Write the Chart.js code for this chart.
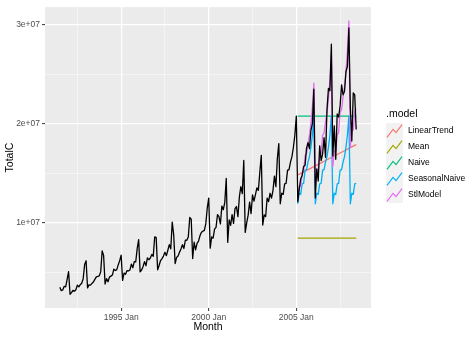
<!DOCTYPE html>
<html>
<head>
<meta charset="utf-8">
<script src="https://cdn.jsdelivr.net/npm/chart.js@4/dist/chart.umd.min.js"></script>
<style>
  html, body { margin: 0; padding: 0; background: #ffffff; }
  #wrap { width: 474px; height: 338px; }
</style>
</head>
<body>
<div id="wrap"><canvas id="costChart" width="474" height="338"></canvas></div>
<script>
// Monthly TotalC, 1991 Jul .. 2008 Jun
var totalC = [
  3526591, 3180891, 3252221, 3611003, 3565869, 4306371,
  5088335, 2814520, 2985811, 3204780, 3127578, 3270523, 3737851, 3558776, 3777202, 3924490, 4386531, 5810549,
  6192068, 3450857, 3772307, 3734303, 3905399, 4049687, 4315566, 4562185, 4608662, 4667851, 5093841, 7179962,
  6731473, 3841278, 4394076, 4075341, 4540645, 4645615, 4752607, 5350605, 5204455, 5301651, 5773742, 6204593,
  6749484, 4216067, 4949349, 4823045, 5194754, 5170787, 5256742, 5855277, 5490729, 6115293, 6088473, 7416598,
  8329452, 5069796, 5262557, 5597126, 6110296, 5689161, 6486849, 6300569, 6467476, 6828629, 6649078, 8606937,
  8524471, 5277918, 5714303, 6214529, 6411929, 6667716, 7050831, 6704919, 7250988, 7819733, 7398101, 10096233,
  8798513, 5918261, 6534493, 6675736, 7064201, 7383381, 7813496, 7431892, 8275117, 8260441, 8596156, 10558939,
  10391416, 6421535, 8062619, 7297739, 7936916, 8165323, 8717420, 9070964, 9177113, 9251887, 9933136, 11532974,
  12511462, 7457199, 8591191, 8474000, 9386803, 9560399, 10834295, 10643751, 9908162, 11710041, 11340151, 12079132,
  14497581, 8049275, 10312891, 9753358, 10850382, 9961719, 11443601, 11659239, 10647060, 12652134, 13674466, 12965735,
  16300269, 9053485, 10002449, 10788750, 12106705, 10954101, 12844566, 12196500, 12854748, 13542004, 13287640, 15134918,
  16828350, 9800215, 10816994, 10654223, 12512323, 12161210, 12998046, 12517276, 13268658, 14733622, 13669382, 16503966,
  18003768, 11938030, 12997900, 12882645, 13943447, 13989472, 15339097, 15370764, 16142005, 16685754, 17636728, 18869325,
  20778723, 12154552, 13402392, 14459239, 14795678, 15705833, 15826411, 17554701, 18100864, 17496668, 19347265, 20031291,
  23486694, 12536987, 15467018, 14233539, 17783058, 16291602, 16980282, 18612189, 16623343, 21430241, 23575517, 23334206,
  28038383, 16763869, 19792754, 16427305, 21000742, 20681002, 21834890, 23930204, 22930357, 23263340, 25250030, 25806090,
  29665356, 21654285, 18264945, 23107677, 22912510, 19431740
];
var dataStart = 1991 + 6 / 12;      // 1991 Jul

// Forecasts, 2005 Feb .. 2008 Jun
var forecastStart = 2005 + 1 / 12;  // 2005 Feb

var linearTrend = [
  14850000, 14926000, 15003000, 15079000, 15155000, 15231000, 15308000, 15384000, 15460000, 15536000, 15613000, 15689000,
  15765000, 15841000, 15918000, 15994000, 16070000, 16146000, 16223000, 16299000, 16375000, 16451000, 16528000, 16604000,
  16680000, 16756000, 16833000, 16909000, 16985000, 17061000, 17138000, 17214000, 17290000, 17366000, 17443000, 17519000,
  17595000, 17671000, 17748000, 17824000, 17900000
];
var meanFc = [
  8476543, 8476543, 8476543, 8476543, 8476543, 8476543, 8476543, 8476543, 8476543, 8476543, 8476543, 8476543,
  8476543, 8476543, 8476543, 8476543, 8476543, 8476543, 8476543, 8476543, 8476543, 8476543, 8476543, 8476543,
  8476543, 8476543, 8476543, 8476543, 8476543, 8476543, 8476543, 8476543, 8476543, 8476543, 8476543, 8476543,
  8476543, 8476543, 8476543, 8476543, 8476543
];
var naiveFc = [
  20778723, 20778723, 20778723, 20778723, 20778723, 20778723, 20778723, 20778723, 20778723, 20778723, 20778723, 20778723,
  20778723, 20778723, 20778723, 20778723, 20778723, 20778723, 20778723, 20778723, 20778723, 20778723, 20778723, 20778723,
  20778723, 20778723, 20778723, 20778723, 20778723, 20778723, 20778723, 20778723, 20778723, 20778723, 20778723, 20778723,
  20778723, 20778723, 20778723, 20778723, 20778723
];
var seasonalNaive = [
  11938030, 12997900, 12882645, 13943447, 13989472, 15339097, 15370764, 16142005, 16685754, 17636728, 18869325, 20778723,
  11938030, 12997900, 12882645, 13943447, 13989472, 15339097, 15370764, 16142005, 16685754, 17636728, 18869325, 20778723,
  11938030, 12997900, 12882645, 13943447, 13989472, 15339097, 15370764, 16142005, 16685754, 17636728, 18869325, 20778723,
  11938030, 12997900, 12882645, 13943447, 13989472
];
var stlModel = [
  12452000, 13689000, 13699000, 14970000, 15165000, 16790000, 16988000, 18013000, 18801000, 20065000, 21675000, 24101000,
  13980000, 15369000, 15381000, 16808000, 17027000, 18851000, 19074000, 20225000, 21109000, 22529000, 24336000, 27060000,
  15696000, 17256000, 17269000, 18871000, 19117000, 21165000, 21415000, 22708000, 23700000, 25294000, 27324000, 30382000,
  17623000, 19374000, 19389000, 21188000, 21464000
];

var modelNames  = ['LinearTrend', 'Mean', 'Naive', 'SeasonalNaive', 'StlModel'];
var modelColors = ['#F8766D', '#A3A500', '#00BF7D', '#00B0F6', '#E76BF3'];
var modelValues = [linearTrend, meanFc, naiveFc, seasonalNaive, stlModel];

var xMajor = [1995, 2000, 2005];
var xTickLabels = ['1995 Jan', '2000 Jan', '2005 Jan'];
var xMinor = [1992.5, 1997.5, 2002.5, 2007.5];
var yMajor = [10000000, 20000000, 30000000];
var yTickLabels = ['1e+07', '2e+07', '3e+07'];
var yMinor = [5000000, 15000000, 25000000];

function toPoints(values, start) {
    return values.map(function (v, i) { return { x: start + i / 12, y: v }; });
}

var fontName = "'Liberation Sans', Arial, sans-serif";

// black series first so it sits on top; StlModel above the other forecasts
var datasets = [{
    label: 'TotalC',
    data: toPoints(totalC, dataStart),
    borderColor: '#000000',
    borderWidth: 1.3
}];
for (var i = modelNames.length - 1; i >= 0; i--) {
    datasets.push({
        label: modelNames[i],
        data: toPoints(modelValues[i], forecastStart),
        borderColor: modelColors[i],
        borderWidth: 1.3
    });
}

var panelBackground = {
    id: 'panelBackground',
    beforeDraw: function (chart) {
        var a = chart.chartArea, ctx = chart.ctx;
        ctx.save();
        ctx.fillStyle = '#EBEBEB';
        ctx.fillRect(a.left, a.top, a.right - a.left, a.bottom - a.top);
        ctx.restore();
    }
};

// ggplot-style legend with zigzag keys
var modelLegend = {
    id: 'modelLegend',
    afterDraw: function (chart) {
        var ctx = chart.ctx;
        var x0 = 386, y0 = 123, kw = 17, kh = 16;
        ctx.save();
        ctx.fillStyle = '#000000';
        ctx.font = '10.5px ' + fontName;
        ctx.textBaseline = 'middle';
        ctx.textAlign = 'left';
        ctx.fillText('.model', x0, 114);
        ctx.fillStyle = '#F2F2F2';
        ctx.fillRect(x0, y0, kw, kh * modelNames.length);
        ctx.font = '8.5px ' + fontName;
        for (var k = 0; k < modelNames.length; k++) {
            var ky = y0 + k * kh;
            ctx.strokeStyle = modelColors[k];
            ctx.lineWidth = 1.1;
            ctx.beginPath();
            ctx.moveTo(x0 + 1, ky + kh * 0.9);
            ctx.lineTo(x0 + 1 + (kw - 2) * 0.4, ky + kh * 0.4);
            ctx.lineTo(x0 + 1 + (kw - 2) * 0.6, ky + kh * 0.6);
            ctx.lineTo(x0 + kw - 1, ky + kh * 0.1);
            ctx.stroke();
            ctx.fillStyle = '#000000';
            ctx.fillText(modelNames[k], 408, ky + kh / 2);
        }
        ctx.restore();
    }
};

function isMajor(list, v) {
    return list.some(function (m) { return Math.abs(m - v) < 1e-6 * Math.max(1, Math.abs(m)); });
}

new Chart(document.getElementById('costChart'), {
    type: 'line',
    data: { datasets: datasets },
    options: {
        responsive: false,
        animation: false,
        events: [],
        layout: { padding: { top: 5, right: 103, left: 0, bottom: 0 } },
        elements: { point: { radius: 0 }, line: { tension: 0, borderJoinStyle: 'round' } },
        plugins: { legend: { display: false }, tooltip: { enabled: false } },
        scales: {
            x: {
                type: 'linear',
                min: 1990.654,
                max: 2009.2625,
                afterBuildTicks: function (scale) {
                    scale.ticks = xMinor.concat(xMajor).sort().map(function (v) { return { value: v }; });
                },
                afterFit: function (scale) { scale.height = 30; },
                border: { display: false },
                grid: {
                    color: function (c) { return isMajor(xMajor, c.tick.value) ? '#FFFFFF' : 'rgba(255,255,255,0.8)'; },
                    lineWidth: function (c) { return isMajor(xMajor, c.tick.value) ? 1.2 : 0.6; },
                    tickLength: 3,
                    tickWidth: 1,
                    tickColor: function (c) { return isMajor(xMajor, c.tick.value) ? '#333333' : 'rgba(0,0,0,0)'; }
                },
                ticks: {
                    autoSkip: false,
                    maxRotation: 0,
                    padding: 2,
                    color: '#4D4D4D',
                    font: { family: fontName, size: 8.5 },
                    callback: function (v) {
                        var idx = xMajor.indexOf(v);
                        return idx >= 0 ? xTickLabels[idx] : '';
                    }
                },
                title: {
                    display: true,
                    text: 'Month',
                    color: '#000000',
                    font: { family: fontName, size: 10.5 },
                    padding: { top: 0, bottom: 5 }
                }
            },
            y: {
                type: 'linear',
                min: 1430000,
                max: 31770000,
                afterBuildTicks: function (scale) {
                    scale.ticks = yMinor.concat(yMajor).sort(function (a, b) { return a - b; })
                        .map(function (v) { return { value: v }; });
                },
                afterFit: function (scale) { scale.width = 45; },
                border: { display: false },
                grid: {
                    color: function (c) { return isMajor(yMajor, c.tick.value) ? '#FFFFFF' : 'rgba(255,255,255,0.8)'; },
                    lineWidth: function (c) { return isMajor(yMajor, c.tick.value) ? 1.2 : 0.6; },
                    tickLength: 3,
                    tickWidth: 1,
                    tickColor: function (c) { return isMajor(yMajor, c.tick.value) ? '#333333' : 'rgba(0,0,0,0)'; }
                },
                ticks: {
                    autoSkip: false,
                    padding: 2,
                    color: '#4D4D4D',
                    font: { family: fontName, size: 8.5 },
                    callback: function (v) {
                        var idx = yMajor.indexOf(v);
                        return idx >= 0 ? yTickLabels[idx] : '';
                    }
                },
                title: {
                    display: true,
                    text: 'TotalC',
                    color: '#000000',
                    font: { family: fontName, size: 10.5 },
                    padding: { top: 4, bottom: 0 }
                }
            }
        }
    },
    plugins: [panelBackground, modelLegend]
});
</script>
</body>
</html>
